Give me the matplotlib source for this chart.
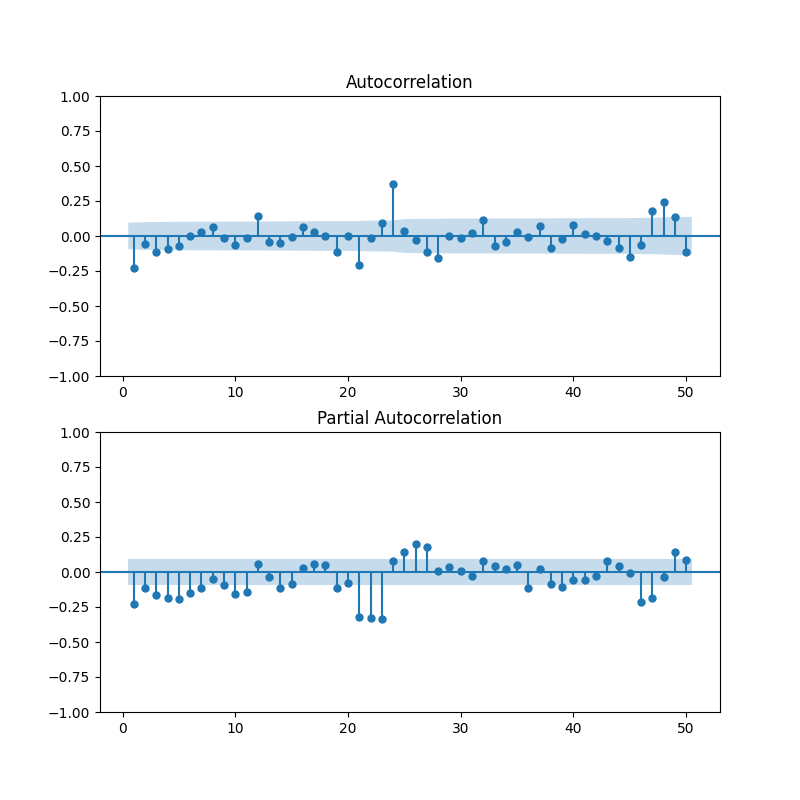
import numpy as np
import matplotlib
matplotlib.use("Agg")
import matplotlib.pyplot as plt

lags = np.arange(1, 51)

acf_vals = [-0.230, -0.057, -0.117, -0.095, -0.069, -0.002, 0.026, 0.062, -0.017, -0.067,
            -0.017, 0.143, -0.043, -0.050, -0.010, 0.062, 0.029, -0.002, -0.114, 0.000,
            -0.210, -0.012, 0.090, 0.369, 0.036, -0.029, -0.114, -0.160, 0.000, -0.017,
            0.021, 0.112, -0.074, -0.043, 0.029, -0.010, 0.071, -0.088, -0.019, 0.079,
            0.012, -0.002, -0.036, -0.088, -0.152, -0.067, 0.176, 0.243, 0.133, -0.114]

pacf_vals = [-0.229, -0.117, -0.167, -0.188, -0.195, -0.150, -0.117, -0.050, -0.093, -0.160,
             -0.145, 0.055, -0.038, -0.117, -0.086, 0.029, 0.060, 0.050, -0.117, -0.079,
             -0.324, -0.331, -0.338, 0.076, 0.143, 0.198, 0.179, 0.005, 0.036, 0.007,
             -0.029, 0.079, 0.043, 0.019, 0.050, -0.117, 0.019, -0.086, -0.110, -0.057,
             -0.057, -0.029, 0.079, 0.045, -0.007, -0.214, -0.188, -0.038, 0.143, 0.086]

nobs = 430
z = 1.96


def plot_corr(ax, vals, band, title):
    vals = np.asarray(vals)
    ax.vlines(lags, [0], vals)
    ax.axhline()
    ax.plot(lags, vals, marker="o", markersize=5, linestyle="None")
    fl = lags.astype(float)
    fl[0] -= 0.5
    fl[-1] += 0.5
    ax.fill_between(fl, -band, band, alpha=0.25, linewidth=0)
    ax.set_title(title)
    ax.set_ylim(-1, 1)
    ax.margins(x=0.05)


acf_arr = np.asarray(acf_vals)
var_acf = np.ones(len(lags)) / nobs
var_acf[1:] *= 1 + 2 * np.cumsum(acf_arr[:-1] ** 2)
acf_band = z * np.sqrt(var_acf)
pacf_band = z * np.sqrt(np.ones(len(lags)) / nobs)

fig, axes = plt.subplots(2, 1, figsize=(8, 8), dpi=100)
plot_corr(axes[0], acf_vals, acf_band, "Autocorrelation")
plot_corr(axes[1], pacf_vals, pacf_band, "Partial Autocorrelation")
fig.savefig("out.png")
